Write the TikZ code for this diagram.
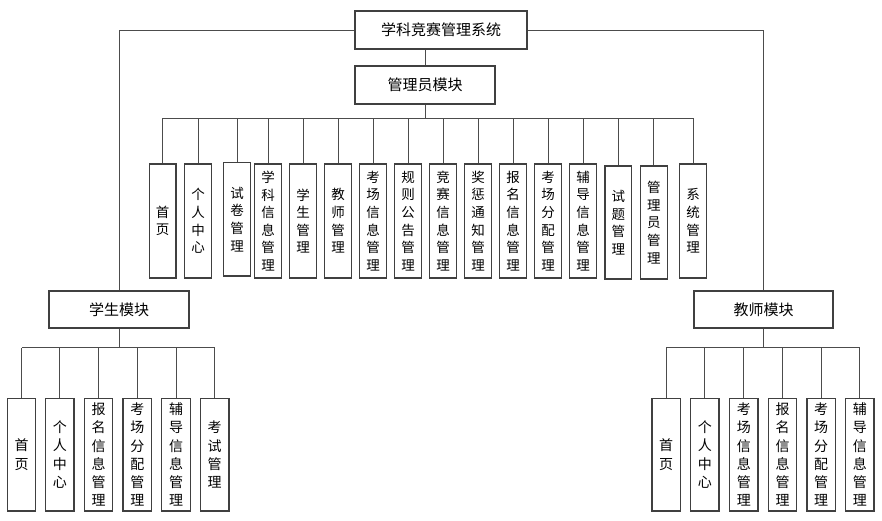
\documentclass[tikz,border=0pt]{standalone}
\usepackage{fontspec}
\setmainfont{Noto Sans CJK SC}
\newcommand\mkbox[7][]{%
  \pgfmathsetmacro\mbcx{(#3+#5)/2}\pgfmathsetmacro\mbcy{(#4+#6)/2}%
  \pgfmathsetmacro\mbw{#5-#3}\pgfmathsetmacro\mbh{#6-#4}%
  \node[box,#1,minimum width=\mbw pt,minimum height=\mbh pt] (#2) at (\mbcx,\mbcy) {#7};}
\begin{document}
\begin{tikzpicture}[x=1pt,y=-1pt,
  box/.style={draw=black!75, line width=1.1pt, fill=white, inner sep=0pt, align=center},
  big/.style={font={\fontsize{15}{18}\selectfont}},
  small/.style={font={\fontsize{13.5}{17.6}\selectfont}},
  mid/.style={font={\fontsize{14}{18.3}\selectfont}},
  conn/.style={draw=black!70, line width=0.9pt}]
\useasboundingbox[fill=white] (0,0) rectangle (882,521);
\coordinate (busA) at (0,118);
\coordinate (busS) at (0,347.7);
% top
\mkbox[big]{top}{355}{11}{527}{49}{学科竞赛管理系统}
\mkbox[big]{adm}{355}{66}{495}{104}{管理员模块}
\mkbox[big]{stu}{49}{291}{189}{328}{学生模块}
\mkbox[big]{tea}{694}{291}{833}{328}{教师模块}
% admin children
\mkbox[small]{a1}{149.3}{164}{176}{278}{首\\页}
\mkbox[small]{a2}{184.7}{164}{211.3}{278}{个\\人\\中\\心}
\mkbox[small]{a3}{223.7}{162.7}{250.3}{276}{试\\卷\\管\\理}
\mkbox[small]{a4}{254.7}{164}{281.3}{278}{学\\科\\信\\息\\管\\理}
\mkbox[small]{a5}{289.7}{164}{316.3}{278}{学\\生\\管\\理}
\mkbox[small]{a6}{324.7}{164}{351.3}{278}{教\\师\\管\\理}
\mkbox[small]{a7}{359.7}{164}{386.3}{278}{考\\场\\信\\息\\管\\理}
\mkbox[small]{a8}{394.7}{164}{421.3}{278}{规\\则\\公\\告\\管\\理}
\mkbox[small]{a9}{429.7}{164}{456.3}{278}{竞\\赛\\信\\息\\管\\理}
\mkbox[small]{a10}{464.7}{164}{491.3}{278}{奖\\惩\\通\\知\\管\\理}
\mkbox[small]{a11}{499.7}{164}{526.3}{278}{报\\名\\信\\息\\管\\理}
\mkbox[small]{a12}{534.7}{164}{561.3}{278}{考\\场\\分\\配\\管\\理}
\mkbox[small]{a13}{569.7}{164}{596.3}{278}{辅\\导\\信\\息\\管\\理}
\mkbox[small]{a14}{605}{166}{631.7}{279}{试\\题\\管\\理}
\mkbox[small]{a15}{640.3}{166}{667.3}{279}{管\\理\\员\\管\\理}
\mkbox[small]{a16}{679.7}{164}{706.3}{278}{系\\统\\管\\理}
% student children
\mkbox[mid]{s1}{7.3}{398.3}{35.7}{511}{首\\页}
\mkbox[mid]{s2}{45.7}{398.3}{74}{511}{个\\人\\中\\心}
\mkbox[mid]{s3}{84.3}{398.3}{112.7}{511}{报\\名\\信\\息\\管\\理}
\mkbox[mid]{s4}{123}{398.3}{151.7}{511}{考\\场\\分\\配\\管\\理}
\mkbox[mid]{s5}{161.7}{398.3}{190.3}{511}{辅\\导\\信\\息\\管\\理}
\mkbox[mid]{s6}{200.3}{398.3}{229}{511}{考\\试\\管\\理}
% teacher children
\mkbox[mid]{t1}{652}{398.3}{680.3}{511}{首\\页}
\mkbox[mid]{t2}{690.7}{398.3}{719}{511}{个\\人\\中\\心}
\mkbox[mid]{t3}{729.7}{398.3}{758}{511}{考\\场\\信\\息\\管\\理}
\mkbox[mid]{t4}{768.3}{398.3}{796.7}{511}{报\\名\\信\\息\\管\\理}
\mkbox[mid]{t5}{807}{398.3}{835.3}{511}{考\\场\\分\\配\\管\\理}
\mkbox[mid]{t6}{845.7}{398.3}{874}{511}{辅\\导\\信\\息\\管\\理}
% connectors
\draw[conn] (adm.north) -- (adm.north |- top.south);
\draw[conn] (top.west) -| (stu.north);
\draw[conn] (top.east) -| (tea.north);
\draw[conn] (adm.south) -- (adm.south |- busA);
\draw[conn] (a1.north |- busA) -- (a16.north |- busA);
\foreach \i in {1,...,16} \draw[conn] (a\i.north) -- (a\i.north |- busA);
\draw[conn] (stu.south) -- (stu.south |- busS);
\draw[conn] (s1.north |- busS) -- (s6.north |- busS);
\foreach \i in {1,...,6} \draw[conn] (s\i.north) -- (s\i.north |- busS);
\draw[conn] (tea.south) -- (tea.south |- busS);
\draw[conn] (t1.north |- busS) -- (t6.north |- busS);
\foreach \i in {1,...,6} \draw[conn] (t\i.north) -- (t\i.north |- busS);
\end{tikzpicture}
\end{document}
